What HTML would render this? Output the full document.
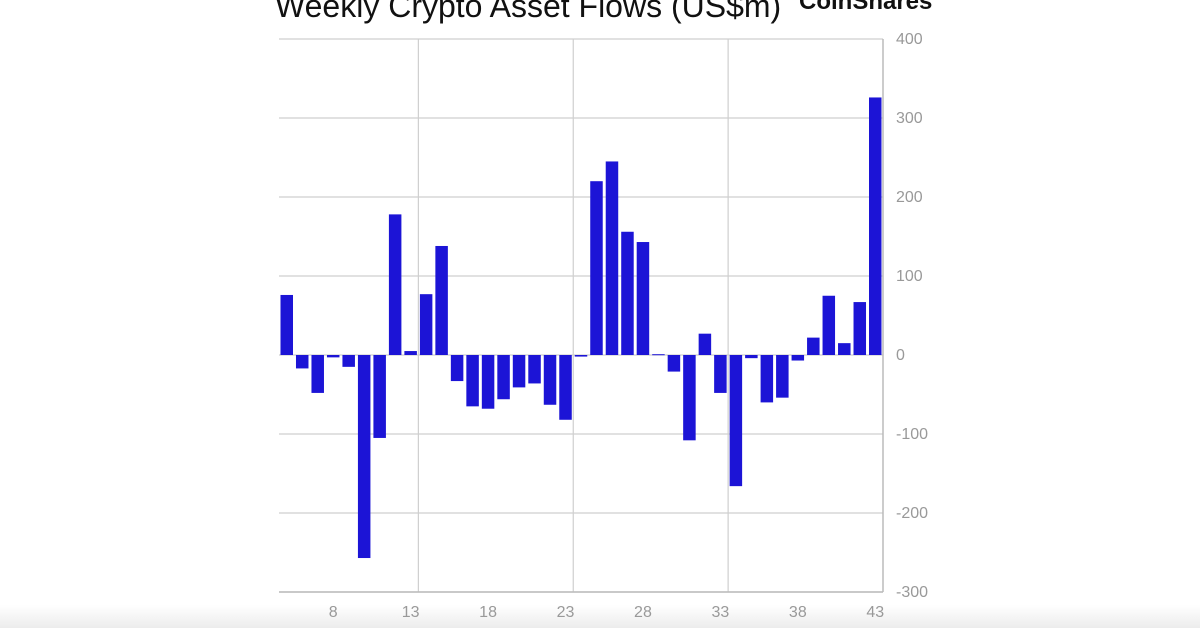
<!DOCTYPE html>
<html><head><meta charset="utf-8"><style>
body{margin:0;width:1200px;height:628px;background:#fff;overflow:hidden;font-family:"Liberation Sans",sans-serif}
</style></head><body>
<svg width="1200" height="628">
<defs><linearGradient id="bg" x1="0" y1="0" x2="0" y2="1"><stop offset="0" stop-color="#fff"/><stop offset="1" stop-color="#ececec"/></linearGradient></defs>
<rect x="0" y="605" width="1200" height="23" fill="url(#bg)"/>
<text x="275" y="17" font-size="32" fill="#111">Weekly Crypto Asset Flows (US$m)</text>
<text x="799" y="9" font-size="24" font-weight="bold" fill="#111">CoinShares</text>
<g id="grid"></g><g id="bars"></g><g id="axes"></g>
</svg>
<script>
const weeks=[5,6,7,8,9,10,11,12,13,14,15,16,17,18,19,20,21,22,23,24,25,26,27,28,29,30,31,32,33,34,35,36,37,38,39,40,41,42,43];
const flows=[76,-17,-48,-3,-15,-257,-105,178,5,77,138,-33,-65,-68,-56,-41,-36,-63,-82,-2,220,245,156,143,1,-21,-108,27,-48,-166,-4,-60,-54,-7,22,75,15,67,326];
const yTicks=[400,300,200,100,0,-100,-200,-300];
const xTicks=[8,13,18,23,28,33,38,43];
const vGrid=[13,23,33];
const NS="http://www.w3.org/2000/svg";
const L=279,R=883,T=39,B=592,step=(R-L)/weeks.length;
const y=v=>T+(400-v)*(B-T)/700;
const xc=w=>L+(w-weeks[0]+0.5)*step;
function mk(t,a,p){const e=document.createElementNS(NS,t);for(const k in a)e.setAttribute(k,a[k]);p.appendChild(e);return e;}
const g=document.getElementById('grid'),b=document.getElementById('bars'),ax=document.getElementById('axes');
yTicks.forEach(v=>{
 const l=mk('line',{x1:L,x2:R,y1:y(v),y2:y(v),stroke:'#cfcfcf','stroke-width':1.2},g);
 
 
 const t=mk('text',{x:896,y:y(v)+5,'font-size':16,fill:'#999'},ax);t.textContent=v;
 
 
});
vGrid.forEach(w=>{
 const l=mk('line',{x1:xc(w)+step/2,x2:xc(w)+step/2,y1:T,y2:B,stroke:'#cfcfcf','stroke-width':1.2},g);
 
 
});
const ra=mk('line',{x1:R,x2:R,y1:T,y2:B,stroke:'#bbb','stroke-width':1.5},ax);


const ba=mk('line',{x1:L,x2:R,y1:B,y2:B,stroke:'#bbb','stroke-width':1.5},ax);


weeks.forEach((w,i)=>{
 const v=flows[i],bw=12.5;
 const r=mk('rect',{x:xc(w)-bw/2,width:bw,y:Math.min(y(v),y(0)),height:Math.max(Math.abs(y(v)-y(0)),1),fill:'#1c14d6'},b);
 
 
});
xTicks.forEach(w=>{
 const t=mk('text',{x:xc(w),y:617,'font-size':16,fill:'#999','text-anchor':'middle'},ax);t.textContent=w;
 
 
});
</script>
</body></html>
